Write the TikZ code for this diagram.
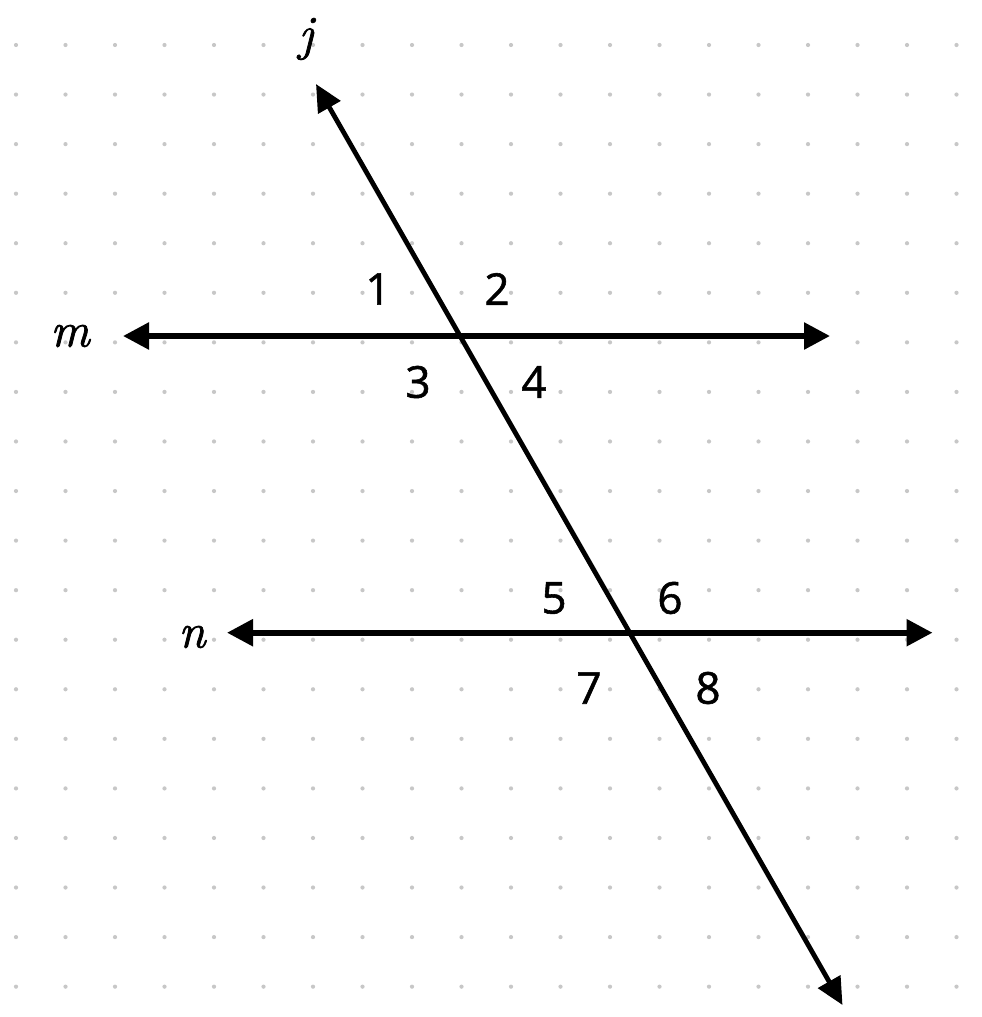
\documentclass[tikz,border=0pt]{standalone}
\usepackage{fontspec}
\newfontfamily\digitfont[FakeBold=1.3]{Open Sans}
\newfontfamily\labelfont[FakeBold=1.6]{Latin Modern Roman}
\usetikzlibrary{arrows.meta}
\begin{document}
\begin{tikzpicture}[x=1pt,y=-1pt,
  lineline/.style={line width=5.6pt,{Triangle[length=26pt,width=26pt]}-{Triangle[length=26pt,width=26pt]}},
  transline/.style={line width=4.8pt,{Triangle[length=27pt,width=25pt]}-{Triangle[length=27pt,width=25pt]}},
  anglenum/.style={font=\digitfont\fontsize{44}{44}\selectfont,inner sep=0pt,anchor=center},
  linelabel/.style={font=\labelfont\itshape\fontsize{49}{49}\selectfont,inner sep=0pt,anchor=center},
  griddot/.style={fill=black!22,draw=none}]
\useasboundingbox (0,0) rectangle (982,1017);
\fill[white] (0,0) rectangle (982,1017);
% dot grid
\foreach \i in {0,...,19}{
  \foreach \j in {0,...,19}{
    \fill[griddot] ({16+49.5*\i},{45+49.56*\j}) circle (2.1pt);
  }
}
% coordinates
\coordinate (mL) at (123,336);
\coordinate (mR) at (830,336);
\coordinate (nL) at (227,632.7);
\coordinate (nR) at (932.5,632.7);
\coordinate (jT) at (316,84);
\coordinate (jB) at (842.5,1005);
% lines
\draw[lineline] (mL) -- (mR);
\draw[lineline] (nL) -- (nR);
\draw[transline] (jT) -- (jB);
% line labels
\node[linelabel] (lm) at (70,336) {m};
\node[linelabel] (ln) at (192,637) {n};
\node[linelabel] (lj) at (306,39) {j};
% angle numbers
\node[anglenum] (a1) at (378,289) {1};
\node[anglenum] (a2) at (497,289) {2};
\node[anglenum] (a3) at (418,382) {3};
\node[anglenum] (a4) at (534,382) {4};
\node[anglenum] (a5) at (554,598) {5};
\node[anglenum] (a6) at (670,598) {6};
\node[anglenum] (a7) at (589,688) {7};
\node[anglenum] (a8) at (708,688) {8};
\end{tikzpicture}
\end{document}
